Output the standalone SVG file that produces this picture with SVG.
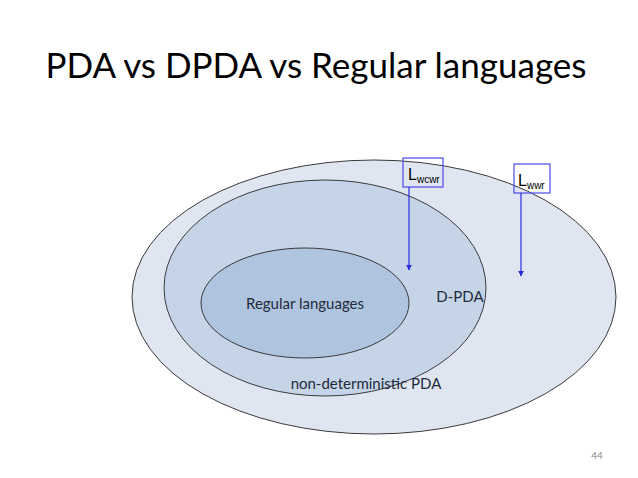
<svg xmlns="http://www.w3.org/2000/svg" width="638" height="478" viewBox="0 0 638 478">
<defs>
<style>
.e{stroke:#3a3a3a;stroke-width:1}
.t{font-family:Lato,"Open Sans",sans-serif;fill:#000}
.lb{font-family:Lato,"Open Sans",sans-serif;font-size:15px;fill:#1f2a3a}
.box{fill:none;stroke:#4a4ae6;stroke-width:1.2}
.ar{stroke:#2a2ae0;stroke-width:1.2;fill:none;marker-end:url(#ah)}
.lt{font-family:"Liberation Sans",Arial,sans-serif;fill:#000}
</style>
<marker id="ah" viewBox="0 0 10 10" refX="9" refY="5" markerWidth="5" markerHeight="5" orient="auto"><path d="M0,0L10,5L0,10z" fill="#2a2ae0"/></marker>
</defs>
<rect width="638" height="478" fill="#fff"/>
<text class="t" x="316" y="78" font-size="35" text-anchor="middle">PDA vs DPDA vs Regular languages</text>
<g id="npda">
<ellipse class="e" cx="374" cy="297" rx="242" ry="137" fill="#dfe6f1"/>
</g>
<g id="dpda">
<ellipse class="e" cx="325" cy="288" rx="161" ry="108" fill="#c6d4e8"/>
<text class="lb" x="460" y="302" text-anchor="middle">D-PDA</text>
</g>
<g id="regular">
<ellipse class="e" cx="305" cy="303" rx="104" ry="55" fill="#afc4df"/>
<text class="lb" x="305" y="309" text-anchor="middle">Regular languages</text>
</g>
<g id="npda-label">
<text class="lb" x="366" y="389" text-anchor="middle">non-deterministic PDA</text>
</g>
<g id="lwcwr">
<rect class="box" x="403" y="158" width="40" height="29"/>
<text class="lt" x="408" y="180" font-size="16">L<tspan font-size="10" dy="3">wcwr</tspan></text>
</g>
<g id="lwwr">
<rect class="box" x="514" y="164" width="36" height="29"/>
<text class="lt" x="518" y="186" font-size="16">L<tspan font-size="10" dy="3">wwr</tspan></text>
</g>
<g id="connectors">
<line class="ar" x1="409" y1="187" x2="409" y2="270"/>
<line class="ar" x1="521" y1="193" x2="521" y2="276"/>
</g>
<text x="597" y="459" font-family="Lato,sans-serif" font-size="10" fill="#8a8a8a" text-anchor="middle">44</text>
</svg>
